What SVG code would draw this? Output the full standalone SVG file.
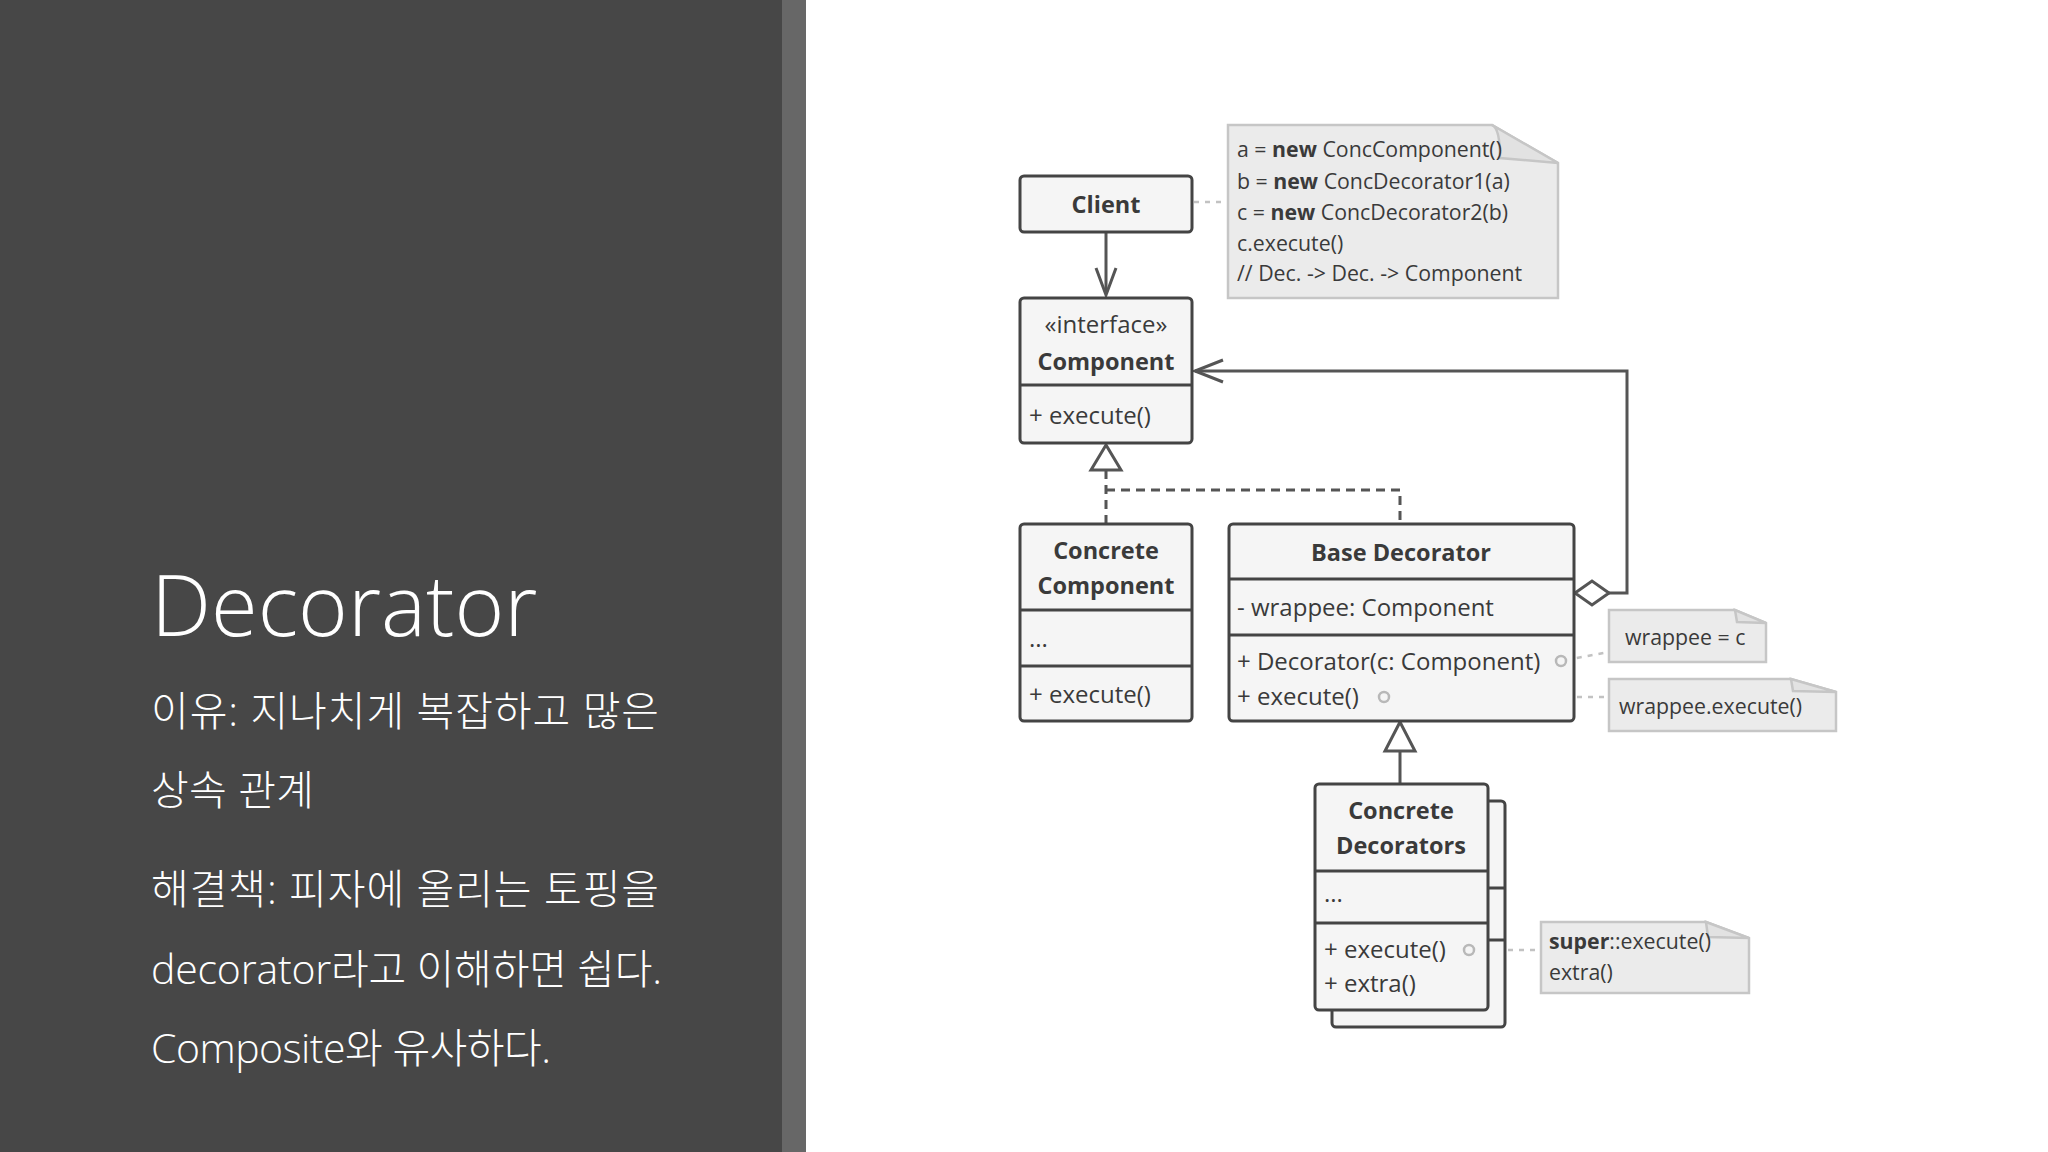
<svg xmlns="http://www.w3.org/2000/svg" width="2048" height="1152" viewBox="0 0 2048 1152">
<style>
.box{fill:#f5f5f5;stroke:#444;stroke-width:3}
.div{stroke:#444;stroke-width:3}
.t{font-family:"Open Sans","Noto Sans",sans-serif;font-size:24px;fill:#3a3a3a}
.b{font-weight:700;font-size:23.5px}
.c{text-anchor:middle}
.note{fill:#ebebeb;stroke:#c6c6c6;stroke-width:2.5}
.fold{fill:#e2e2e2;stroke:#c6c6c6;stroke-width:2.5}
.nt{font-family:"Open Sans","Noto Sans",sans-serif;font-size:21.3px;fill:#3a3a3a}
.line{fill:none;stroke:#555;stroke-width:3}
.dash{fill:none;stroke:#555;stroke-width:3;stroke-dasharray:9 6}
.dot{fill:none;stroke:#c2c2c2;stroke-width:2.5;stroke-dasharray:5 6}
.mk{fill:#f5f5f5;stroke:#b8b8b8;stroke-width:2.5}
.lt{font-family:"Open Sans","Noto Sans CJK KR",sans-serif;font-size:41px;font-weight:300;fill:#ffffff}
</style>
<rect x="0" y="0" width="2048" height="1152" fill="#ffffff"/>
<g id="left-panel">
<rect x="0" y="0" width="782" height="1152" fill="#474747"/>
<rect x="782" y="0" width="24" height="1152" fill="#676767"/>
<text x="151" y="636" font-family="Open Sans, Noto Sans, sans-serif" font-weight="300" font-size="85" fill="#ffffff">Decorator</text>
<text class="lt" x="151" y="726" textLength="508" lengthAdjust="spacing">이유: 지나치게 복잡하고 많은</text>
<text class="lt" x="151" y="805" textLength="163" lengthAdjust="spacing">상속 관계</text>
<text class="lt" x="151" y="904" textLength="508" lengthAdjust="spacing">해결책: 피자에 올리는 토핑을</text>
<text class="lt" x="151" y="984" textLength="511" lengthAdjust="spacing">decorator라고 이해하면 쉽다.</text>
<text class="lt" x="151" y="1063" textLength="400" lengthAdjust="spacing">Composite와 유사하다.</text>
</g>
<g id="connectors">
<line class="dot" x1="1194" y1="202" x2="1228" y2="202"/>
<line class="line" x1="1106" y1="232" x2="1106" y2="294"/>
<polyline class="line" points="1096,268 1106,295 1116,268"/>
<path class="dash" d="M1106,470 V524 M1106,490 H1400 V524"/>
<polygon points="1106,445 1091,470 1121,470" fill="#ffffff" stroke="#555" stroke-width="3"/>
<path class="line" d="M1609,593 H1627 V371 H1195"/>
<polyline class="line" points="1223,360 1195,371 1223,382"/>
<polygon points="1575,593 1592,581 1609,593 1592,605" fill="#ffffff" stroke="#555" stroke-width="3"/>
<line class="line" x1="1400" y1="751" x2="1400" y2="784"/>
<polygon points="1400,722 1385,751 1415,751" fill="#ffffff" stroke="#555" stroke-width="3"/>
<line class="dot" x1="1566" y1="660" x2="1609" y2="652"/>
<line class="dot" x1="1390" y1="697" x2="1609" y2="697"/>
<line class="dot" x1="1475" y1="950" x2="1541" y2="950"/>
</g>
<g id="client">
<rect class="box" x="1020" y="176" width="172" height="56" rx="4"/>
<text class="t b c" x="1106" y="213">Client</text>
</g>
<g id="component">
<rect class="box" x="1020" y="298" width="172" height="145" rx="4"/>
<line class="div" x1="1020" y1="385" x2="1192" y2="385"/>
<text class="t c" x="1106" y="333">«interface»</text>
<text class="t b c" x="1106" y="370">Component</text>
<text class="t" x="1029" y="424">+ execute()</text>
</g>
<g id="concrete-component">
<rect class="box" x="1020" y="524" width="172" height="197" rx="4"/>
<line class="div" x1="1020" y1="610" x2="1192" y2="610"/>
<line class="div" x1="1020" y1="666" x2="1192" y2="666"/>
<text class="t b c" x="1106" y="559">Concrete</text>
<text class="t b c" x="1106" y="594">Component</text>
<text class="t" x="1029" y="647">...</text>
<text class="t" x="1029" y="703">+ execute()</text>
</g>
<g id="base-decorator">
<rect class="box" x="1229" y="524" width="345" height="197" rx="4"/>
<line class="div" x1="1229" y1="579" x2="1574" y2="579"/>
<line class="div" x1="1229" y1="635" x2="1574" y2="635"/>
<text class="t b c" x="1401" y="561">Base Decorator</text>
<text class="t" x="1237" y="616">- wrappee: Component</text>
<text class="t" x="1237" y="670">+ Decorator(c: Component)</text>
<text class="t" x="1237" y="705">+ execute()</text>
<circle class="mk" cx="1561" cy="661" r="5"/>
<circle class="mk" cx="1384" cy="697" r="5"/>
</g>
<g id="concrete-decorators">
<rect class="box" x="1332" y="801" width="173" height="226" rx="4"/>
<line class="div" x1="1332" y1="888" x2="1505" y2="888"/>
<line class="div" x1="1332" y1="940" x2="1505" y2="940"/>
<rect class="box" x="1315" y="784" width="173" height="226" rx="4"/>
<line class="div" x1="1315" y1="871" x2="1488" y2="871"/>
<line class="div" x1="1315" y1="923" x2="1488" y2="923"/>
<text class="t b c" x="1401" y="819">Concrete</text>
<text class="t b c" x="1401" y="854">Decorators</text>
<text class="t" x="1324" y="902">...</text>
<text class="t" x="1324" y="958">+ execute()</text>
<text class="t" x="1324" y="992">+ extra()</text>
<circle class="mk" cx="1469" cy="950" r="5"/>
</g>
<g id="note-client">
<path class="note" d="M1228,125 H1492 L1558,163 V298 H1228 Z"/>
<path class="fold" d="M1492,125 Q1500,128 1500,158 L1558,163 Z"/>
<text class="nt" x="1237" y="157">a = <tspan font-weight="700">new</tspan> ConcComponent()</text>
<text class="nt" x="1237" y="189">b = <tspan font-weight="700">new</tspan> ConcDecorator1(a)</text>
<text class="nt" x="1237" y="220">c = <tspan font-weight="700">new</tspan> ConcDecorator2(b)</text>
<text class="nt" x="1237" y="251">c.execute()</text>
<text class="nt" x="1237" y="281" fill="#a0a0a0">// Dec. -&gt; Dec. -&gt; Component</text>
</g>
<g id="note-wrappee">
<path class="note" d="M1609,610 H1735 L1766,623 V662 H1609 Z"/>
<path class="fold" d="M1735,610 L1737,622 L1766,623 Z"/>
<text class="nt" x="1625" y="645">wrappee = c</text>
</g>
<g id="note-execute">
<path class="note" d="M1609,679 H1791 L1836,692 V731 H1609 Z"/>
<path class="fold" d="M1791,679 L1793,691 L1836,692 Z"/>
<text class="nt" x="1619" y="714">wrappee.execute()</text>
</g>
<g id="note-super">
<path class="note" d="M1541,922 H1706 L1749,938 V993 H1541 Z"/>
<path class="fold" d="M1706,922 L1708,937 L1749,938 Z"/>
<text class="nt" x="1549" y="949"><tspan font-weight="700">super</tspan>::execute()</text>
<text class="nt" x="1549" y="980">extra()</text>
</g>
</svg>
